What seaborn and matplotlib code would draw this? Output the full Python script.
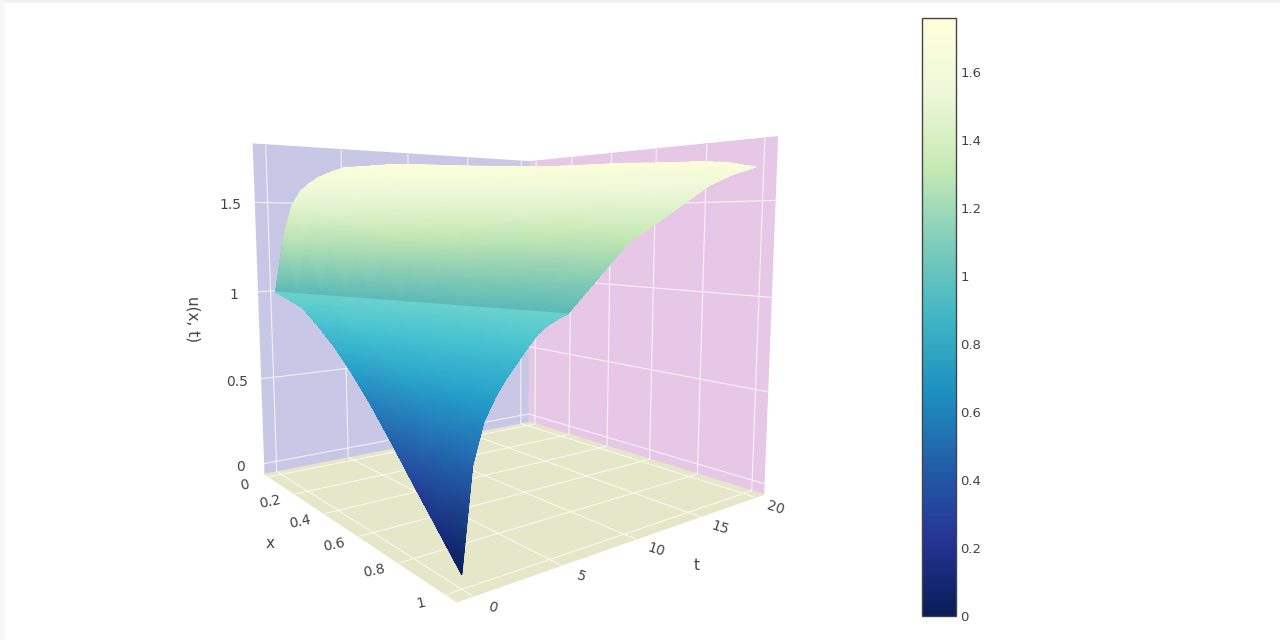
import numpy as np
import matplotlib
matplotlib.use('Agg')
import matplotlib.pyplot as plt
from matplotlib.cm import ScalarMappable
from matplotlib.collections import TriMesh
from matplotlib.colors import Normalize
from matplotlib.patches import Rectangle
from matplotlib.tri import Triangulation
from mpl_toolkits.mplot3d import proj3d
import seaborn as sns

sns.set_style('white')
plt.rcParams['font.family'] = 'DejaVu Sans'

# grid
x_vals = [0, 0.1, 0.2, 0.3, 0.4, 0.5, 0.6, 0.7, 0.8, 0.9, 1]
t_vals = [0, 0.6, 1.2, 1.8, 2.4, 3, 3.6, 4.2, 4.8, 5.4, 6, 8, 10, 12, 14, 16, 18, 20]
u_x00 = [1, 1.30, 1.48, 1.565, 1.61, 1.645, 1.67, 1.69, 1.71, 1.715, 1.72, 1.74, 1.75, 1.75, 1.75, 1.75, 1.75, 1.76]
u_x01 = [.97, 1.0, 1.275, 1.441, 1.522, 1.567, 1.603, 1.63, 1.652, 1.673, 1.681, 1.709, 1.73, 1.739, 1.742, 1.745, 1.75, 1.76]
u_x02 = [.94, .989, 1.0, 1.249, 1.402, 1.479, 1.524, 1.561, 1.59, 1.614, 1.637, 1.671, 1.703, 1.725, 1.733, 1.737, 1.745, 1.76]
u_x03 = [.865, .962, .988, 1.0, 1.224, 1.363, 1.436, 1.481, 1.519, 1.55, 1.577, 1.629, 1.674, 1.707, 1.723, 1.728, 1.739, 1.755]
u_x04 = [.78, .923, .96, .988, 1.0, 1.198, 1.324, 1.393, 1.438, 1.477, 1.51, 1.584, 1.635, 1.682, 1.71, 1.717, 1.73, 1.75]
u_x05 = [.675, .87, .922, .959, .987, 1.0, 1.173, 1.285, 1.35, 1.395, 1.435, 1.533, 1.594, 1.65, 1.69, 1.707, 1.72, 1.745]
u_x06 = [.555, .798, .873, .919, .96, .986, 1.0, 1.147, 1.246, 1.307, 1.352, 1.473, 1.545, 1.613, 1.668, 1.697, 1.707, 1.735]
u_x07 = [.42, .716, .814, .87, .919, .962, .986, 1.0, 1.122, 1.207, 1.264, 1.403, 1.494, 1.568, 1.638, 1.683, 1.693, 1.725]
u_x08 = [.278, .625, .747, .816, .868, .921, .96, .986, 1.0, 1.096, 1.168, 1.325, 1.434, 1.519, 1.599, 1.659, 1.683, 1.72]
u_x09 = [.14, .531, .673, .755, .815, .871, .923, .96, .984, 1.0, 1.071, 1.237, 1.37, 1.45, 1.535, 1.605, 1.655, 1.705]
u_x10 = [0, .435, .60, .69, .76, .817, .875, .927, .96, .982, 1.0, 1.15, 1.30, 1.385, 1.475, 1.565, 1.625, 1.67]

x_ticks = [0, 0.2, 0.4, 0.6, 0.8, 1]
x_labels = ['0', '0.2', '0.4', '0.6', '0.8', '1']
t_ticks = [0, 5, 10, 15, 20]
t_labels = ['0', '5', '10', '15', '20']
z_ticks = [0, 0.5, 1, 1.5]
z_labels = ['0', '0.5', '1', '1.5']
cbar_ticks = [0, 0.2, 0.4, 0.6, 0.8, 1, 1.2, 1.4, 1.6]
cbar_labels = ['0', '0.2', '0.4', '0.6', '0.8', '1', '1.2', '1.4', '1.6']
scale_colors = ['#081d58', '#253494', '#225ea8', '#1d91c0', '#41b6c4', '#7fcdbb', '#c7e9b4', '#edf8d9', '#ffffd9']

U = np.array([u_x00, u_x01, u_x02, u_x03, u_x04, u_x05, u_x06, u_x07, u_x08, u_x09, u_x10])
X, T = np.meshgrid(x_vals, t_vals, indexing='ij')

cmap = sns.blend_palette(scale_colors, n_colors=256, as_cmap=True)
norm = Normalize(0, 1.76)
text_color = '#444444'

fig = plt.figure(figsize=(12.8, 6.4), dpi=100)
ax = fig.add_subplot(projection='3d')

xlim = (-0.04, 1.04)
tlim = (-0.8, 20.8)
zlim = (-0.06, 1.82)
ax.set_xlim(*xlim, view_margin=0)
ax.set_ylim(*tlim, view_margin=0)
ax.set_zlim(*zlim, view_margin=0)

# camera fitted to the box corners of the picture
ax.view_init(elev=6.55, azim=-37.68)
ax.set_proj_type('persp', focal_length=0.242)
ax.set_box_aspect((1.054, 1.056, 1.0))
s, tx, ty = 3252.2, 504.0, 316.4
x0, x1 = ax.viewLim.intervalx
y0, y1 = ax.viewLim.intervaly
w = s * (x1 - x0)
ax.set_position([(tx + s * x0) / 1280, (640 - (ty - s * y0)) / 640, w / 1280, w / 640])

ax.plot_surface(X, T, U, cmap=cmap, norm=norm, rstride=1, cstride=1, linewidth=0, antialiased=False)

ax.set_xticks(x_ticks)
ax.set_yticks(t_ticks)
ax.set_zticks(z_ticks)
ax.set_xticklabels([])
ax.set_yticklabels([])
ax.set_zticklabels([])
pane_colors = {'x': (200 / 255, 200 / 255, 230 / 255, 1), 'y': (230 / 255, 200 / 255, 230 / 255, 1), 'z': (230 / 255, 230 / 255, 200 / 255, 1)}
for name, axis in (('x', ax.xaxis), ('y', ax.yaxis), ('z', ax.zaxis)):
    axis.set_pane_color(pane_colors[name])
    axis.pane.set_edgecolor(pane_colors[name])
    axis.line.set_color((1, 1, 1, 0))
    axis._axinfo['grid'].update(color=(1, 1, 1, 0.75), linewidth=0.8)
    axis._axinfo['tick'].update(inward_factor=0, outward_factor=0)
ax.grid(True)

fig.canvas.draw()

# overlay in picture pixels: smooth shaded surface and the labels
over = fig.add_axes([0, 0, 1, 1], facecolor='none')
over.set_axis_off()
over.set_xlim(0, 1280)
over.set_ylim(640, 0)


def to_pixels(a, b, c):
    px, py, pz = proj3d.proj_transform(np.asarray(a, float), np.asarray(b, float), np.asarray(c, float), ax.get_proj())
    xy = ax.transData.transform(np.column_stack([np.ravel(px), np.ravel(py)]))
    return xy[:, 0], 640 - xy[:, 1], np.ravel(pz)


sx, sy, sz = to_pixels(X.ravel(), T.ravel(), U.ravel())
n_x, n_t = U.shape
tris, below = [], []
for j in range(n_x - 1):
    for k in range(n_t - 1):
        a, b, c, d = j * n_t + k, (j + 1) * n_t + k, (j + 1) * n_t + k + 1, j * n_t + k + 1
        tris += [[a, b, c], [a, c, d]]
        below += [k <= j, k + 1 <= j]
tris = np.array(tris)
below = np.array(below)
order = np.argsort(-sz[tris].mean(axis=1))
tris, below = tris[order], below[order]

# every triangle gets its own corners, so the lighting can break along the crease
corners = tris.ravel()
u_c = U.ravel()[corners]
rgba = cmap(norm(u_c))
lit = np.repeat(below, 3)
rgba[lit, :3] += np.outer(u_c[lit], [0.03, 0.06, 0.055])
rgba[~lit, :3] -= 0.035 * np.clip((1.4 - u_c[~lit]) / 0.4, 0, 1)[:, None]
mesh = TriMesh(Triangulation(sx[corners], sy[corners], np.arange(corners.size).reshape(-1, 3)))
mesh.set_facecolor(np.clip(rgba, 0, 1))
over.add_collection(mesh, autolim=False)

for val, lab in zip(x_ticks, x_labels):
    px, py, _ = to_pixels([val], [tlim[0]], [zlim[0]])
    over.text(px[0] - 25, py[0] + 8, lab, fontsize=10, color=text_color, ha='center', va='center', rotation=12)
for val, lab in zip(t_ticks, t_labels):
    px, py, _ = to_pixels([xlim[1]], [val], [zlim[0]])
    over.text(px[0] + 20, py[0] + 11, lab, fontsize=10, color=text_color, ha='center', va='center', rotation=-18)
for val, lab in zip(z_ticks, z_labels):
    px, py, _ = to_pixels([xlim[0]], [tlim[0]], [val])
    over.text(px[0] - 24, py[0] + 3, lab, fontsize=10, color=text_color, ha='center', va='center')
over.text(270, 543, 'x', fontsize=11, color=text_color, ha='center', va='center')
over.text(697, 566, 't', fontsize=11, color=text_color, ha='center', va='center')
over.text(193, 319, 'u(x, t)', fontsize=11, color=text_color, ha='center', va='center', rotation=-90)

cax = fig.add_axes([922 / 1280, 24 / 640, 34 / 1280, 598 / 640])
cb = fig.colorbar(ScalarMappable(norm=norm, cmap=cmap), cax=cax, ticks=cbar_ticks)
cb.ax.set_yticklabels(cbar_labels, fontsize=9.5, color=text_color)
cb.ax.tick_params(length=0, pad=3)
cb.outline.set_edgecolor(text_color)
cb.outline.set_linewidth(1)

fig.add_artist(Rectangle((0, 637 / 640), 1, 3 / 640, transform=fig.transFigure, color='#f2f2f2', lw=0))
fig.add_artist(Rectangle((0, 0), 5 / 1280, 1, transform=fig.transFigure, color='#f7f7f7', lw=0))

fig.savefig('out.png', dpi=100)
